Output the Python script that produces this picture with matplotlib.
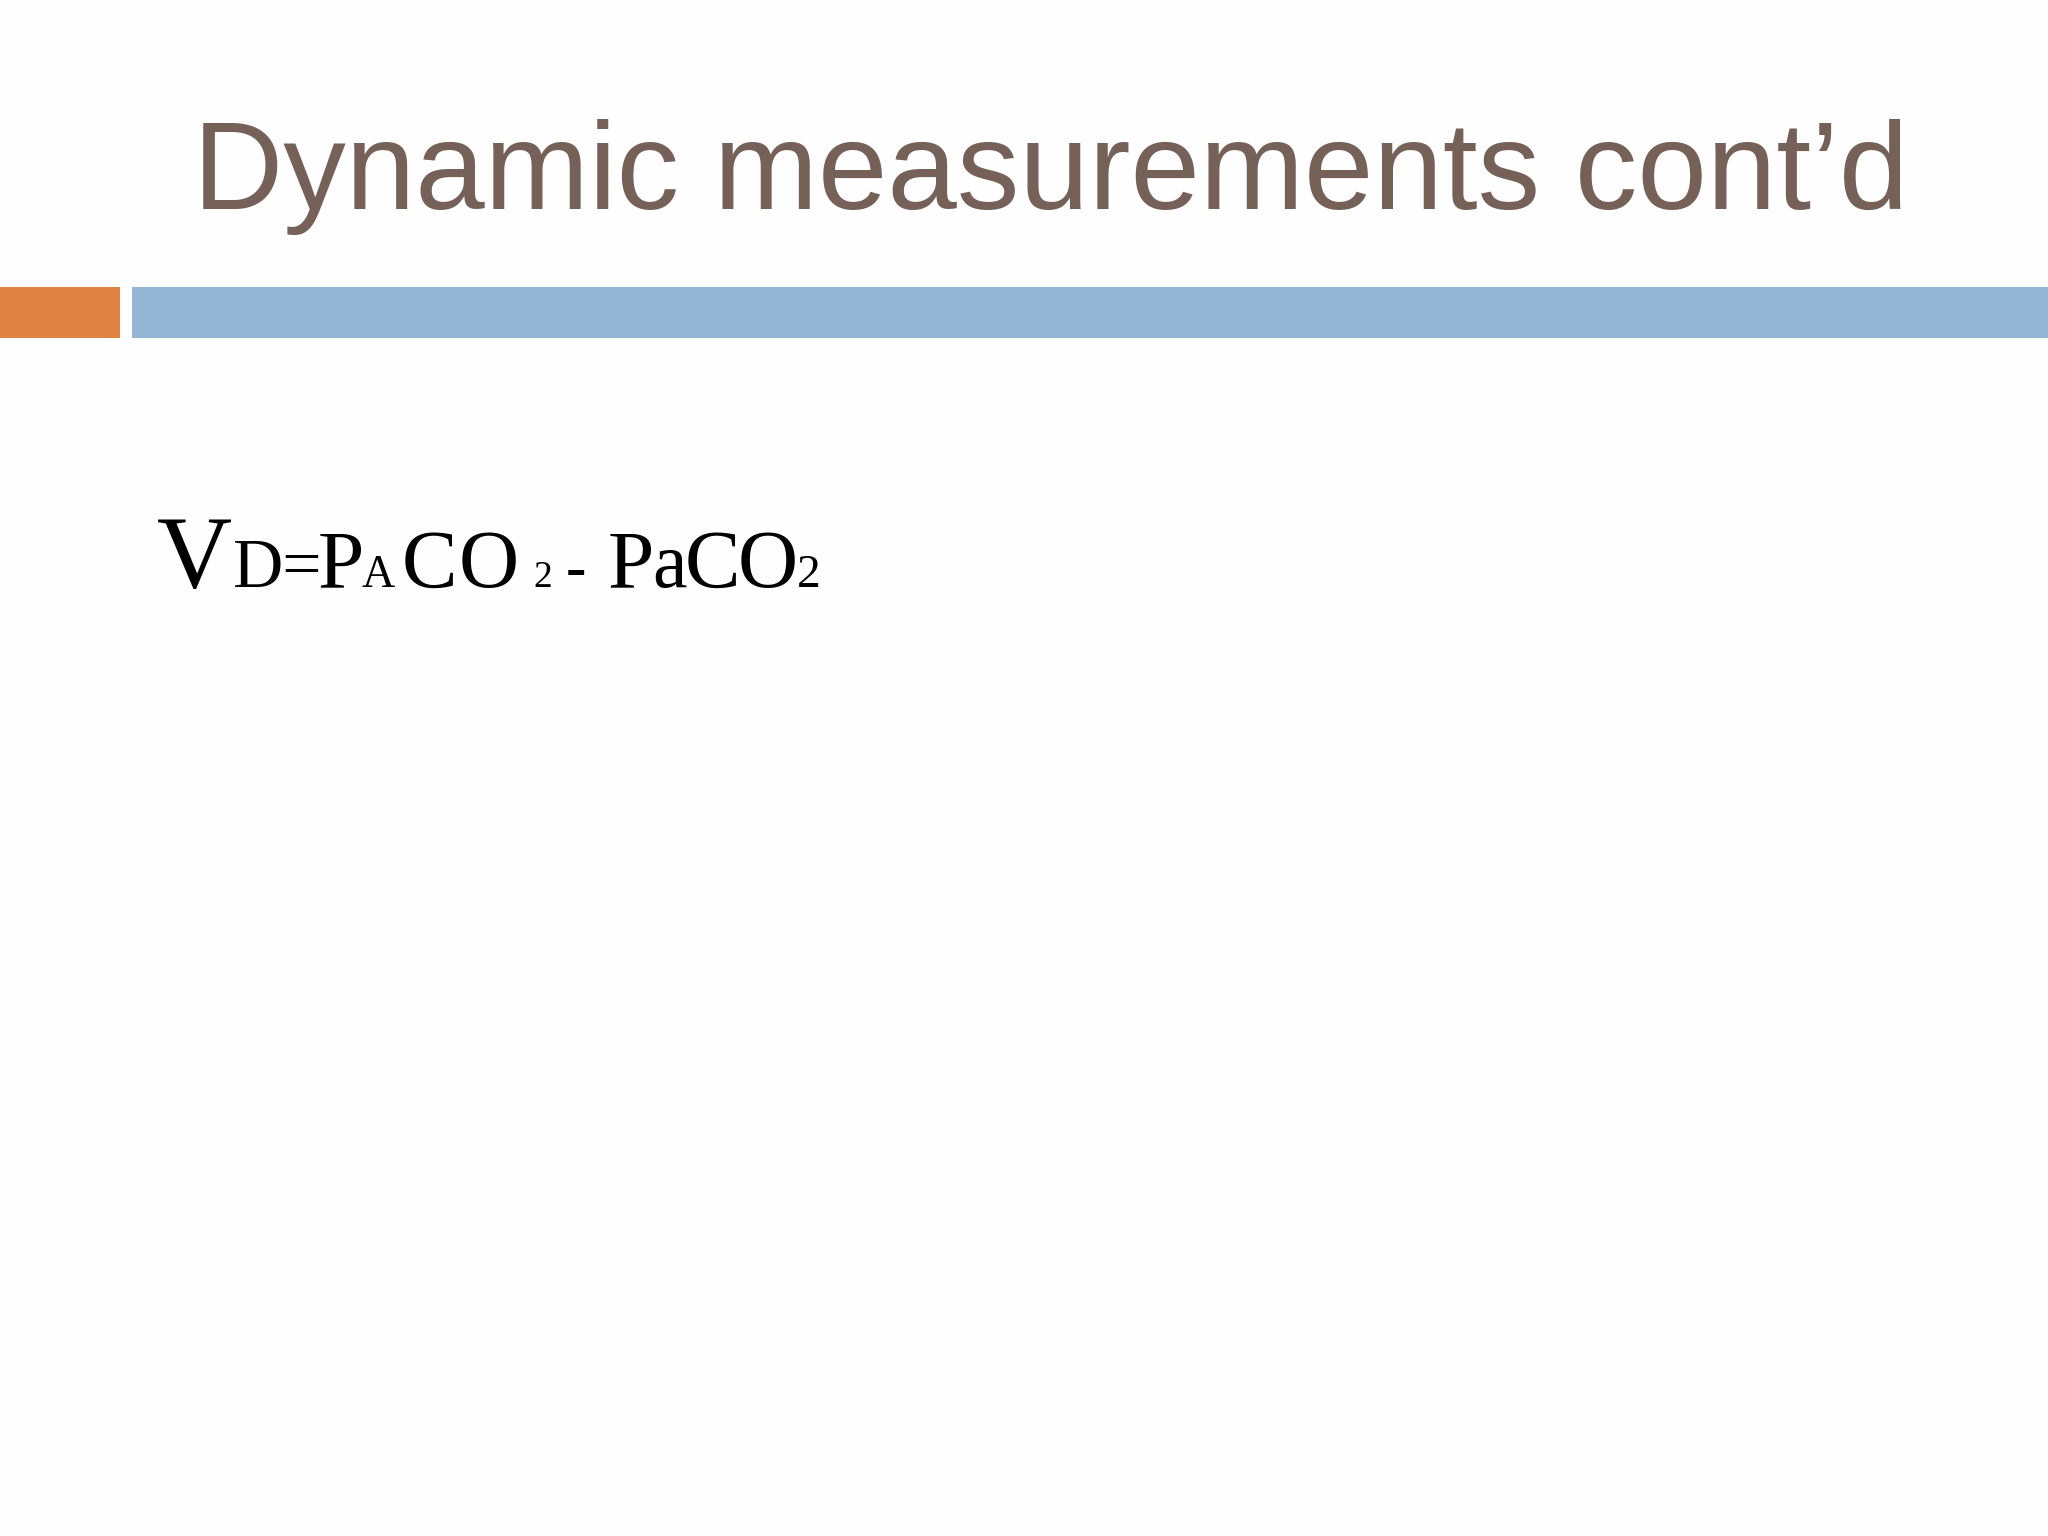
import matplotlib
matplotlib.use("Agg")
import matplotlib.pyplot as plt
from matplotlib.patches import Rectangle

W, H = 2048, 1536

title = "Dynamic measurements cont\u2019d"

# formula pieces: text, font size (pt), left x in px
pieces = ["V", "D=", "P", "A", "C", "O", "2", "-", "P", "a", "C", "O", "2"]
sizes = [75, 50, 60, 33, 60, 60, 27, 44, 60, 56, 60, 60, 34]
lefts = [157, 233, 318, 362, 402, 459, 533, 566, 608, 652, 685, 738, 797]
weights = ["normal"] * 7 + ["bold"] + ["normal"] * 5

fig = plt.figure(figsize=(W / 100, H / 100), dpi=100)
fig.patch.set_facecolor("#fefefe")


def px(x, y):
    return x / W, 1 - y / H


# title
fig.text(*px(1051, 209), title, ha="center", va="baseline",
         fontsize=90, family="Liberation Sans", color="#766158")

# header bars
fig.patches.append(Rectangle(px(0, 338), 120 / W, 51 / H,
                             transform=fig.transFigure, color="#df8244", lw=0))
fig.patches.append(Rectangle(px(132, 338), (W - 132) / W, 51 / H,
                             transform=fig.transFigure, color="#94b6d4", lw=0))

# formula
for txt, fs, x, wt in zip(pieces, sizes, lefts, weights):
    fig.text(*px(x, 587), txt, ha="left", va="baseline", fontsize=fs,
             fontweight=wt, family="Liberation Serif", color="black")

fig.savefig("out.png", dpi=100, facecolor=fig.get_facecolor())
